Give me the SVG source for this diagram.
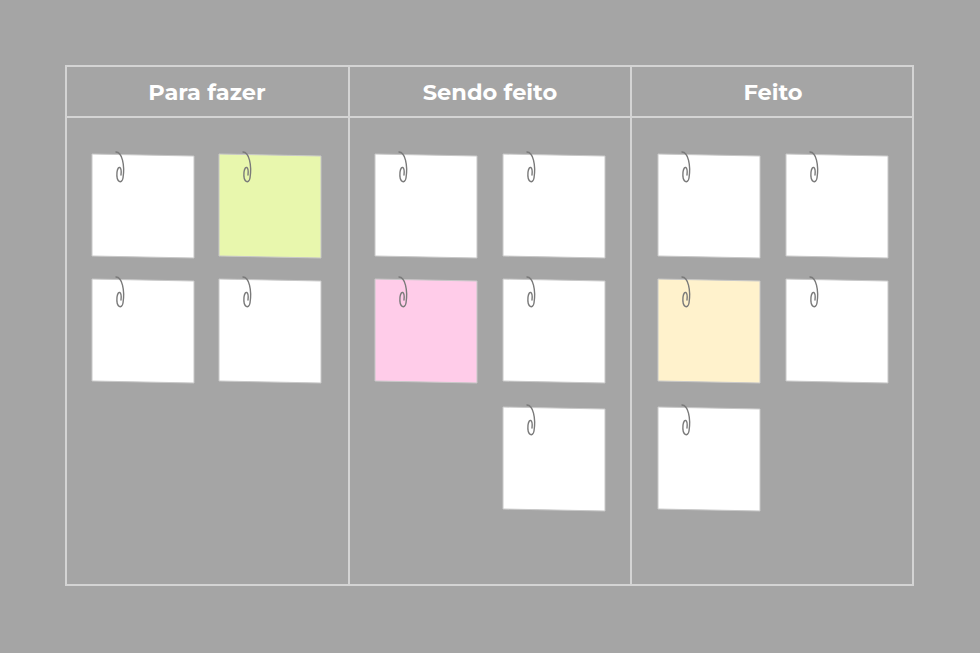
<svg xmlns="http://www.w3.org/2000/svg" width="980" height="653" viewBox="0 0 980 653">
<defs>
<style>
.grid{fill:none;stroke:#d4d4d4;stroke-width:2}
.hd{font-family:Montserrat,Inter,"Open Sans","Liberation Sans",sans-serif;font-weight:700;font-size:22.5px;fill:#ffffff;text-anchor:middle}
.note{stroke:#c8c8c8;stroke-width:1}
.clip{fill:none;stroke:#7a7a7a;stroke-width:1.4;stroke-linecap:round}
</style>
<path id="sheet" d="M0,0 L102,2 L102,104 L0,102 Z"/>
<path id="pin" d="M24,-2 C30,-2 33,11 31,24 C30,30 24,29 25,18 C26,11 30,12 29,21"/>
</defs>
<rect width="980" height="653" fill="#a5a5a5"/>
<g id="board">
<rect class="grid" x="66" y="66" width="847" height="519"/>
<line class="grid" x1="66" y1="117" x2="913" y2="117"/>
<line class="grid" x1="349" y1="66" x2="349" y2="585"/>
<line class="grid" x1="631" y1="66" x2="631" y2="585"/>
</g>
<g id="col-para-fazer"><text class="hd" x="207" y="100">Para fazer</text></g>
<g id="col-sendo-feito"><text class="hd" x="490" y="100">Sendo feito</text></g>
<g id="col-feito"><text class="hd" x="773" y="100">Feito</text></g>
<g id="n1" transform="translate(92,154)"><use href="#sheet" class="note" fill="#ffffff"/><use href="#pin" class="clip"/></g>
<g id="n2" transform="translate(219,154)"><use href="#sheet" class="note" fill="#e8f7ad"/><use href="#pin" class="clip"/></g>
<g id="n3" transform="translate(92,279)"><use href="#sheet" class="note" fill="#ffffff"/><use href="#pin" class="clip"/></g>
<g id="n4" transform="translate(219,279)"><use href="#sheet" class="note" fill="#ffffff"/><use href="#pin" class="clip"/></g>
<g id="n5" transform="translate(375,154)"><use href="#sheet" class="note" fill="#ffffff"/><use href="#pin" class="clip"/></g>
<g id="n6" transform="translate(503,154)"><use href="#sheet" class="note" fill="#ffffff"/><use href="#pin" class="clip"/></g>
<g id="n7" transform="translate(375,279)"><use href="#sheet" class="note" fill="#ffcce9"/><use href="#pin" class="clip"/></g>
<g id="n8" transform="translate(503,279)"><use href="#sheet" class="note" fill="#ffffff"/><use href="#pin" class="clip"/></g>
<g id="n9" transform="translate(503,407)"><use href="#sheet" class="note" fill="#ffffff"/><use href="#pin" class="clip"/></g>
<g id="n10" transform="translate(658,154)"><use href="#sheet" class="note" fill="#ffffff"/><use href="#pin" class="clip"/></g>
<g id="n11" transform="translate(786,154)"><use href="#sheet" class="note" fill="#ffffff"/><use href="#pin" class="clip"/></g>
<g id="n12" transform="translate(658,279)"><use href="#sheet" class="note" fill="#fff2cc"/><use href="#pin" class="clip"/></g>
<g id="n13" transform="translate(786,279)"><use href="#sheet" class="note" fill="#ffffff"/><use href="#pin" class="clip"/></g>
<g id="n14" transform="translate(658,407)"><use href="#sheet" class="note" fill="#ffffff"/><use href="#pin" class="clip"/></g>
<g id="connectors"/>
</svg>
